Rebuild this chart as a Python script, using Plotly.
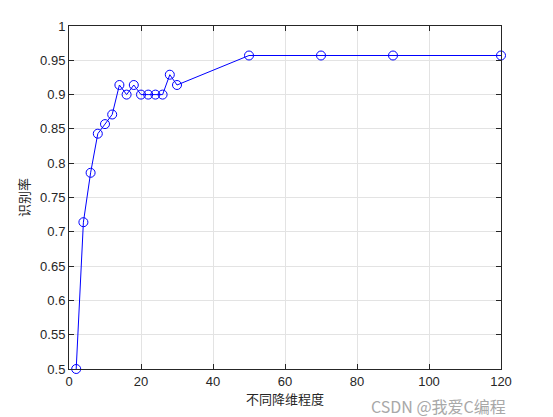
import plotly.graph_objects as go

# dimension levels and recognition rate
dims = [2, 4, 6, 8, 10, 12, 14, 16, 18, 20, 22, 24, 26, 28, 30, 50, 70, 90, 120]
rates = [0.5, 0.714, 0.786, 0.843, 0.857, 0.871, 0.914, 0.9, 0.914, 0.9,
         0.9, 0.9, 0.9, 0.929, 0.914, 0.957, 0.957, 0.957, 0.957]

x_ticks = [0, 20, 40, 60, 80, 100, 120]
y_ticks = [0.5, 0.55, 0.6, 0.65, 0.7, 0.75, 0.8, 0.85, 0.9, 0.95, 1]

fig = go.Figure()
fig.add_trace(go.Scatter(
    x=dims, y=rates, mode="lines+markers",
    line=dict(color="#0000ff", width=1),
    marker=dict(symbol="circle-open", size=9, color="#0000ff", line=dict(width=1)),
    cliponaxis=False,
))

axis_common = dict(
    showline=True, linecolor="#262626", linewidth=1, mirror="allticks",
    ticks="inside", ticklen=5, tickcolor="#262626", automargin=False,
    showgrid=True, gridcolor="#e3e3e3", gridwidth=1, zeroline=False,
    tickfont=dict(family="Arial, Liberation Sans", size=13, color="#262626"),
)
fig.update_xaxes(range=[0, 120], tickvals=x_ticks, **axis_common,
                 title=dict(text="不同降维程度", standoff=2,
                            font=dict(family="Noto Sans CJK SC", size=13, color="#262626")))
fig.update_yaxes(range=[0.5, 1], tickvals=y_ticks,
                 ticktext=[("%g" % v) for v in y_ticks], **axis_common,
                 title=dict(text="识别率", standoff=7,
                            font=dict(family="Noto Sans CJK SC", size=13, color="#262626")))

fig.add_annotation(text="CSDN @我爱C编程", xref="paper", yref="paper",
                   x=1.017, y=-0.068, xanchor="right", yanchor="top", showarrow=False,
                   font=dict(family="Noto Sans CJK SC", size=16, color="#a8a8a8"))

# page body adds 8px, so the figure is a bit smaller than the window
fig.update_layout(
    width=545, height=409,
    margin=dict(l=61, r=52, t=18, b=48),
    paper_bgcolor="white", plot_bgcolor="white",
    showlegend=False,
)
fig.write_html("out.html")
